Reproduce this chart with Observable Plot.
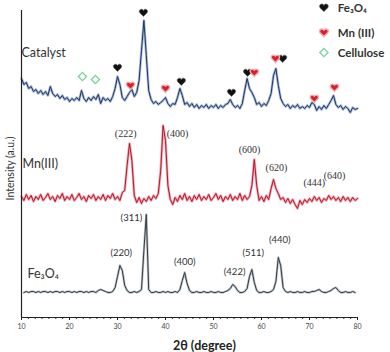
<!DOCTYPE html>
<html>
<head>
<meta charset="utf-8">
<script src="https://cdn.jsdelivr.net/npm/d3@7"></script>
<script src="https://cdn.jsdelivr.net/npm/@observablehq/plot@0.6"></script>
<style>
  body { margin: 0; background: #fff; }
  #chart svg { display: block; }
</style>
</head>
<body>
<div id="chart"></div>
<script>
// 2θ sampling: start angle and step (degrees)
const step = 0.5;
const catalystStart = 10;
const mnStart = 10;
const feStart = 10.5;

// Intensity (a.u., stacked offsets included), one value per step
const catalystIntensity = [
  239,233,235,229,231,226,228,224,227,223,
  226,222,231,224,221,223,219,222,218,220,
  216,219,217,220,217,227,219,216,220,217,
  221,218,223,214,220,217,219,216,221,229,
  241,233,220,217,221,225,228,221,225,237,
  267,297,262,227,218,214,216,213,215,217,
  220,214,211,214,213,220,229,222,213,215,
  211,214,210,213,209,212,210,213,209,212,
  210,213,209,212,210,213,214,218,213,210,
  212,209,214,227,239,229,225,220,213,215,
  211,214,212,217,224,242,249,232,219,214,
  211,213,209,212,210,213,209,211,209,212,
  210,215,213,207,211,208,212,209,213,217,
  222,213,210,212,208,211,209,205,210,208,
  209
];
const mnIntensity = [
  121,117,123,118,122,116,121,118,123,117,
  120,124,118,121,116,122,119,124,117,121,
  118,123,117,120,124,118,121,116,122,119,
  123,117,121,118,123,117,122,119,124,118,
  121,117,125,127,152,174,157,122,115,120,
  114,119,116,121,117,122,119,124,147,192,
  177,132,118,113,120,116,122,118,124,117,
  121,116,122,118,123,117,121,118,123,117,
  120,124,118,122,116,121,118,123,117,121,
  118,124,117,122,118,121,132,158,132,117,
  121,116,122,118,129,138,129,124,118,120,
  115,119,114,118,113,109,117,113,118,115,
  119,116,121,117,120,115,119,117,122,118,
  121,117,120,116,121,117,120,116,120,117,
  119
];
const feIntensity = [
  25,26,25,26,26,25,26,25,26,26,25,26,25,26,26,25,26,25,26,26,25,26,25,26,26,25,26,25,26,26,25,
  27,28,27,26,25,25,26,30,
  41,52,47,32,27,25,25,26,25,26,
  28,67,103,28,25,25,26,25,25,26,
  25,26,25,25,26,25,28,37,45,34,
  27,25,25,26,25,25,26,25,25,26,
  25,25,26,25,25,26,27,29,33,31,
  27,25,25,26,29,41,48,35,27,25,
  25,26,25,25,26,28,36,60,52,30,
  26,25,26,25,25,26,25,25,26,25,
  25,26,26,27,28,26,25,25,26,27,
  29,30,27,25,25,26,25,25,26,25
];

// Peak markers on the Catalyst pattern: [2θ, intensity]
const fe3o4Markers = [[30.0,250],[35.4,305],[43.3,236],[53.75,225],[57.1,245],[64.4,259]];
const mnMarkers = [[32.7,232],[40.0,229],[58.5,245],[62.9,259],[71.0,219],[75.2,230]];
const celluloseMarkers = [[22.7,241],[25.4,238]];

// hkl labels: [label, 2θ, intensity]
const mnHkl = [["(222)",31.7,184],["(400)",42.5,184],["(600)",57.5,168],["(620)",63.1,150],["(444)",71.0,135],["(640)",75.2,142]];
const feHkl = [["(220)",30.8,65],["(311)",32.9,100],["(400)",44.0,56],["(422)",54.4,46],["(511)",58.3,65],["(440)",63.8,78]];

// series labels: [label, 2θ, intensity]
const seriesLabels = [["Catalyst",10,265],["Mn(III)",10.2,154],["Fe₃O₄",11.25,44]];

// legend: [kind, label, 2θ, intensity]
const legendItems = [["fe","Fe₃O₄",73.0,310],["mn","Mn (III)",73.0,285],["cel","Cellulose",73.0,265]];

const majorTicks = [10,20,30,40,50,60,70,80];
const minorTicks = d3.range(10, 80.01, 10/7);

const toPts = (start, arr) => arr.map((v, i) => ({x: start + i * step, y: v}));
const catalyst = toPts(catalystStart, catalystIntensity);
const mn = toPts(mnStart, mnIntensity);
const fe = toPts(feStart, feIntensity);

const heart = {
  draw(context, size) {
    const r = Math.sqrt(size / Math.PI);
    context.moveTo(0, -0.4 * r);
    context.bezierCurveTo(0, -0.95 * r, -r, -0.95 * r, -r, -0.3 * r);
    context.bezierCurveTo(-r, 0.2 * r, -0.3 * r, 0.5 * r, 0, 0.95 * r);
    context.bezierCurveTo(0.3 * r, 0.5 * r, r, 0.2 * r, r, -0.3 * r);
    context.bezierCurveTo(r, -0.95 * r, 0, -0.95 * r, 0, -0.4 * r);
    context.closePath();
  }
};

const font = "Lato, 'Open Sans', sans-serif";

const chart = Plot.plot({
  width: 390,
  height: 352,
  marginLeft: 21,
  marginRight: 33,
  marginTop: 10,
  marginBottom: 35,
  style: {fontFamily: font, background: "#fff"},
  x: {domain: [10, 80], axis: null, label: null},
  y: {domain: [0, 307], axis: null, label: null},
  marks: [
    // halos
    Plot.line(catalyst, {x: "x", y: "y", stroke: "#a9bbd8", strokeWidth: 2.6}),
    Plot.line(mn, {x: "x", y: "y", stroke: "#f0a8b2", strokeWidth: 2.6}),
    Plot.line(fe, {x: "x", y: "y", stroke: "#b8c4cc", strokeWidth: 2.4}),
    // lines
    Plot.line(catalyst, {x: "x", y: "y", stroke: "#1c3563", strokeWidth: 1}),
    Plot.line(mn, {x: "x", y: "y", stroke: "#b3172b", strokeWidth: 1}),
    Plot.line(fe, {x: "x", y: "y", stroke: "#3a3a3a", strokeWidth: 1}),
    // axes
    Plot.ruleX([10], {stroke: "#222", strokeWidth: 1.2}),
    Plot.ruleY([0], {stroke: "#222", strokeWidth: 1}),
    Plot.axisX({ticks: minorTicks, tickSize: 2, tickFormat: () => "", label: null, stroke: "#222"}),
    Plot.axisX({ticks: majorTicks, tickSize: 3, tickPadding: 4, fontSize: 7, label: null, fill: "#444", stroke: "#222"}),
    // axis titles
    Plot.text(["Intensity (a.u.)"], {x: 7.7, y: 149, rotate: -90, fontSize: 10.5, fill: "#333"}),
    Plot.text(["2θ (degree)"], {x: 48.1, y: -28, fontSize: 12.5, fontWeight: "bold", fill: "#222"}),
    // markers on catalyst peaks
    Plot.dot(fe3o4Markers, {x: d => d[0], y: d => d[1], symbol: heart, r: 4.2, fill: "#111", stroke: "#666", strokeWidth: 0.6}),
    Plot.dot(mnMarkers, {x: d => d[0], y: d => d[1], symbol: heart, r: 4.2, fill: "#d81f2e", stroke: "#f3b0b0", strokeWidth: 1.4}),
    Plot.dot(celluloseMarkers, {x: d => d[0], y: d => d[1], symbol: "diamond2", r: 3.7, fill: "white", stroke: "#74d39a", strokeWidth: 1.3}),
    // legend
    Plot.dot(legendItems.filter(d => d[0] === "fe"), {x: d => d[2], y: d => d[3], symbol: heart, r: 4.4, fill: "#111", stroke: "#666", strokeWidth: 0.6}),
    Plot.dot(legendItems.filter(d => d[0] === "mn"), {x: d => d[2], y: d => d[3], symbol: heart, r: 4.4, fill: "#d81f2e", stroke: "#f3b0b0", strokeWidth: 1.4}),
    Plot.dot(legendItems.filter(d => d[0] === "cel"), {x: d => d[2], y: d => d[3], symbol: "diamond2", r: 3.7, fill: "white", stroke: "#74d39a", strokeWidth: 1.3}),
    Plot.text(legendItems, {x: d => d[2] + 2.9, y: d => d[3] - 1, text: d => d[1], textAnchor: "start", fontSize: 11.5, fontWeight: "bold", fill: "#333"}),
    // series labels
    Plot.text(seriesLabels, {x: d => d[1], y: d => d[2], text: d => d[0], textAnchor: "start", fontSize: 12.5, fill: "#333"}),
    // hkl labels
    Plot.text(mnHkl, {x: d => d[1], y: d => d[2], text: d => d[0], fontSize: 10, fontFamily: "'Liberation Serif', serif", fill: "#333"}),
    Plot.text(feHkl, {x: d => d[1], y: d => d[2], text: d => d[0], fontSize: 9.5, fill: "#333"})
  ]
});
document.getElementById("chart").appendChild(chart);
</script>
</body>
</html>
